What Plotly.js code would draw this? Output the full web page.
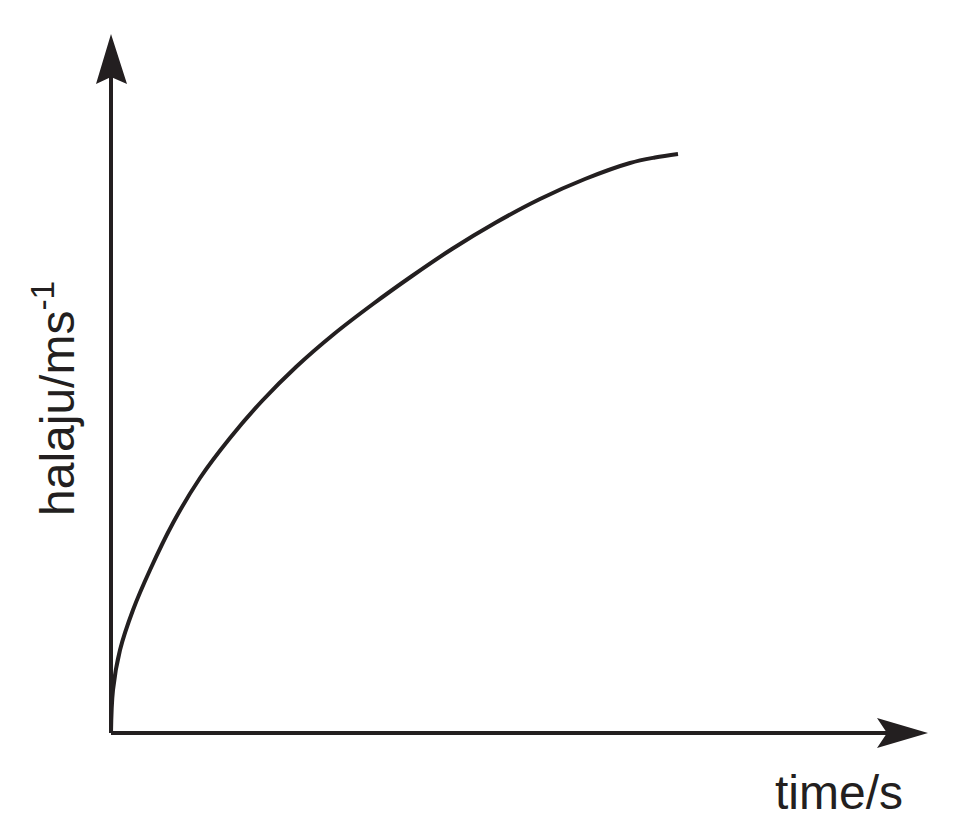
<!DOCTYPE html>
<html>
<head>
<meta charset="utf-8">
<script src="https://cdn.plot.ly/plotly-3.0.1.min.js"></script>
<style>html,body{margin:0;padding:0;background:#fff;}#chart{width:980px;height:827px;}</style>
</head>
<body>
<div id="chart"></div>
<script>
// velocity-time curve (arbitrary units)
const time = [0, 0.2, 0.9, 2.2, 3.9, 6.2, 8.9, 11.9, 15.1, 18.5, 22.3, 26.2, 30.1, 34.1, 38.4, 42.9, 47.4, 51.9, 54.4, 56.7];
const halaju = [0, 4.3, 8.3, 12.3, 16.3, 21.0, 25.5, 29.5, 33.2, 36.6, 39.9, 42.9, 45.7, 48.4, 51.0, 53.4, 55.4, 57.0, 57.55, 57.9];
const xLabel = 'time/s';
const yLabel = 'halaju/ms<sup>-1</sup>';

const ink = '#231f20';
const trace = {
  x: time, y: halaju, mode: 'lines', type: 'scatter',
  line: {color: ink, width: 4, shape: 'spline', smoothing: 1},
  hoverinfo: 'skip', cliponaxis: false
};

const layout = {
  width: 980, height: 827,
  margin: {l: 50, r: 20, t: 10, b: 27},
  paper_bgcolor: '#fff', plot_bgcolor: '#fff',
  showlegend: false,
  xaxis: {range: [-6.1, 84.9], showgrid: false, zeroline: false, showticklabels: false, showline: false, ticks: '', fixedrange: true},
  yaxis: {range: [-6.7, 72.3], showgrid: false, zeroline: false, showticklabels: false, showline: false, ticks: '', fixedrange: true},
  shapes: [
    {type: 'line', xref: 'x', yref: 'y', x0: 0, y0: 0, x1: 78, y1: 0, line: {color: ink, width: 4}},
    {type: 'line', xref: 'x', yref: 'y', x0: 0, y0: 0, x1: 0, y1: 66, line: {color: ink, width: 4}},
    {type: 'path', xref: 'x', yref: 'y', path: 'M 81.7 0 L 76.6 1.5 L 77.6 0 L 76.6 -1.5 Z', fillcolor: ink, line: {color: ink, width: 0}},
    {type: 'path', xref: 'x', yref: 'y', path: 'M 0 69.9 L -1.5 64.9 L 0 65.6 L 1.6 64.9 Z', fillcolor: ink, line: {color: ink, width: 0}}
  ],
  annotations: [
    {text: xLabel, xref: 'x', yref: 'y', x: 72.8, y: -5.9, xanchor: 'center', yanchor: 'middle', showarrow: false,
     font: {family: 'Liberation Sans, Arial, sans-serif', size: 48, color: ink}},
    {text: yLabel, xref: 'x', yref: 'y', x: -5.7, y: 33.4, xanchor: 'center', yanchor: 'middle', textangle: -90, showarrow: false,
     font: {family: 'Liberation Sans, Arial, sans-serif', size: 48, color: ink}}
  ]
};

Plotly.newPlot('chart', [trace], layout, {displayModeBar: false, staticPlot: true});
</script>
</body>
</html>
